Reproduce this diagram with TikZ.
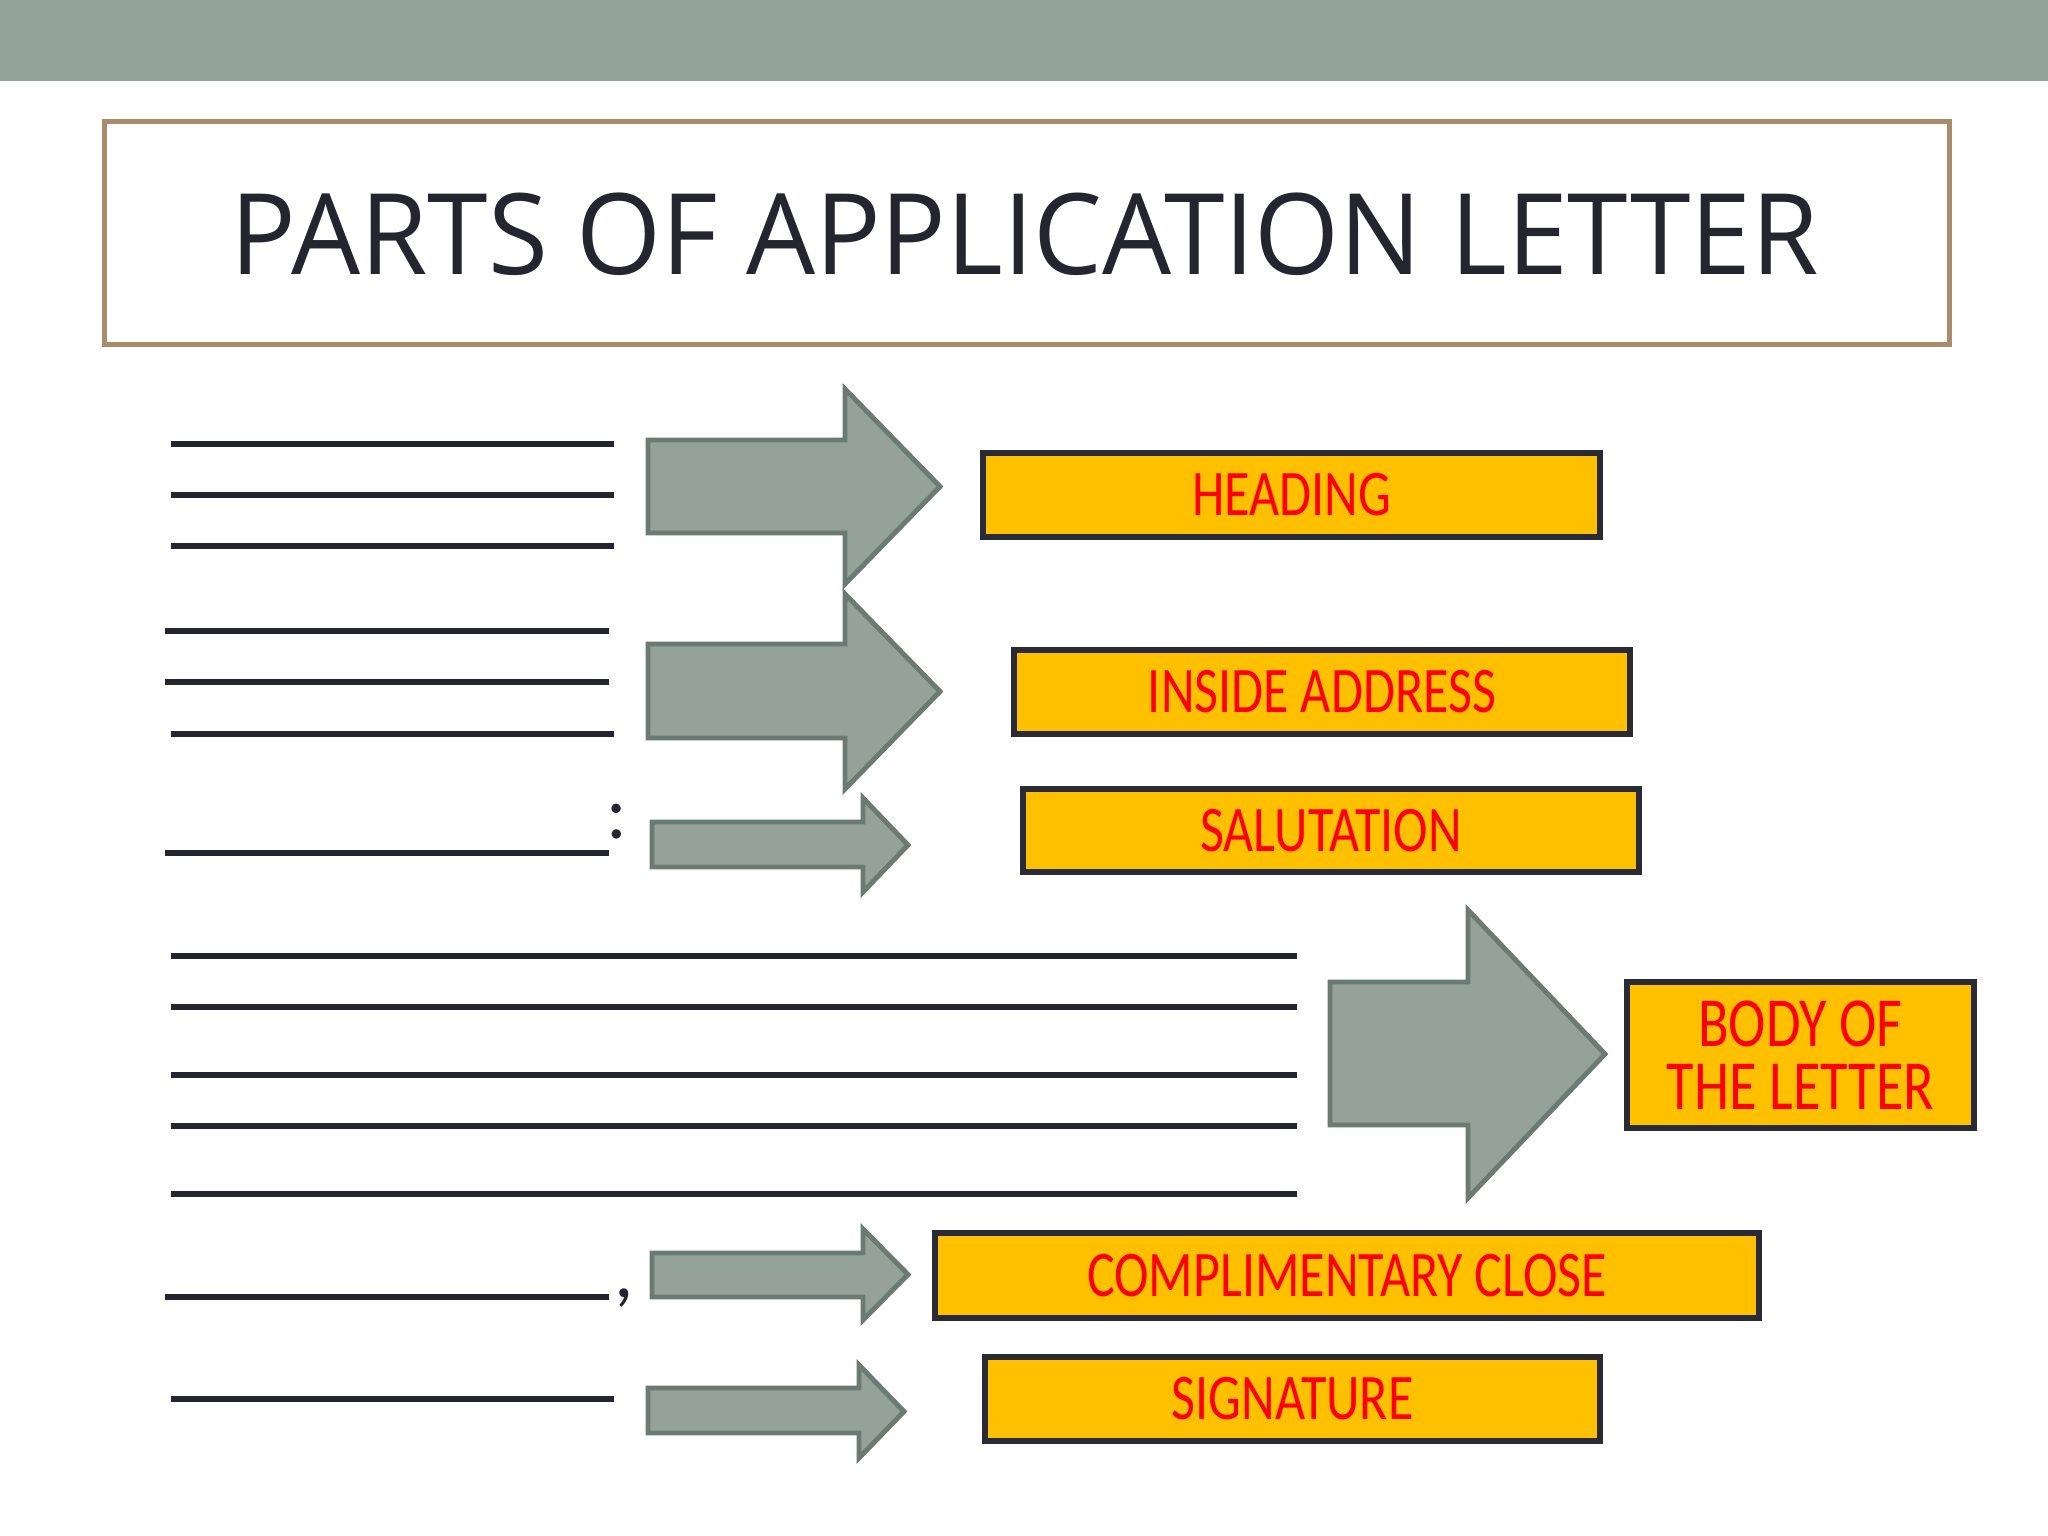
\documentclass[tikz,border=0pt]{standalone}
\usepackage{fontspec}
\setmainfont{Carlito}
\newfontfamily\titlefont[FakeStretch=0.97]{Open Sans}
\newfontfamily\boxfont[FakeStretch=0.8]{Carlito}
\definecolor{band}{HTML}{93A39A}
\definecolor{titleborder}{HTML}{A88C6C}
\definecolor{arrfill}{HTML}{94A29A}
\definecolor{arrdraw}{HTML}{6B7A72}
\definecolor{boxfill}{HTML}{FFC000}
\definecolor{boxdraw}{HTML}{2A2A35}
\definecolor{textred}{HTML}{FF0000}
\definecolor{ink}{HTML}{252530}
\tikzset{
  partbox/.style={draw=boxdraw, fill=boxfill, line width=1.6pt, inner sep=0pt,
    font=\boxfont\fontsize{18.5}{22}\selectfont, text=textred, align=center},
  rule/.style={draw=ink, line width=1.5pt},
  blockarrow/.style={draw=arrdraw, fill=arrfill, line width=1.4pt, line join=miter},
  punct/.style={inner sep=0pt, text=ink, font=\fontsize{22}{24}\selectfont}
}
% #1 x left, #2 x neck, #3 x tip, #4 body top, #5 body bottom, #6 head top, #7 head bottom
\newcommand\blockarr[7]{%
  \path[blockarrow] (#1,#4) -- (#2,#4) -- (#2,#6) -- (#3,{(#6+#7)/2}) -- (#2,#7) -- (#2,#5) -- (#1,#5) -- cycle;}
\begin{document}
\begin{tikzpicture}[x=0.01cm,y=-0.01cm]
\useasboundingbox (0,0) rectangle (2048,1536);
\fill[white] (0,0) rectangle (2048,1536);
% top band
\fill[band] (0,0) rectangle (2048,81);
% title
\node[draw=titleborder, line width=1.3pt, minimum width=18.44cm, minimum height=2.23cm, anchor=north west] (titlebox) at (102,119) {};
\node[text=ink, font=\titlefont\fontsize{32}{36}\selectfont] (title) at (1025,234) {PARTS OF APPLICATION LETTER};

% rule groups
\foreach \y in {444,495,546} \draw[rule] (171,\y) -- (614,\y);
\foreach \y in {631,682} \draw[rule] (165,\y) -- (609,\y);
\draw[rule] (171,734) -- (614,734);
\draw[rule] (165,853) -- (609,853);
\node[punct, anchor=base west] (colon) at (606,838) {:};
\foreach \y in {956,1007,1075,1126,1194} \draw[rule] (171,\y) -- (1297,\y);
\draw[rule] (165,1297) -- (609,1297);
\node[punct, anchor=base west] (comma) at (614,1297) {,};
\draw[rule] (171,1399) -- (614,1399);

% block arrows
\blockarr{648}{845}{940}{440}{533}{389}{584}
\blockarr{648}{845}{940}{644}{738}{594}{789}
\blockarr{652}{863}{908}{822}{867}{798}{892}
\blockarr{1330}{1468}{1605}{982}{1125}{910}{1198}
\blockarr{652}{863}{908}{1253}{1297}{1229}{1320}
\blockarr{648}{859}{904}{1388}{1433}{1365}{1458}

% part boxes
\node[partbox, minimum width=6.17cm, minimum height=0.84cm] (heading) at (1291.5,495) {HEADING};
\node[partbox, minimum width=6.16cm, minimum height=0.84cm] (inside) at (1322,692) {INSIDE ADDRESS};
\node[partbox, minimum width=6.16cm, minimum height=0.83cm] (salut) at (1331,830.5) {SALUTATION};
\node[partbox, minimum width=3.47cm, minimum height=1.46cm, font=\boxfont\fontsize{20}{22}\selectfont] (body) at (1800.5,1055) {BODY OF\\[-4pt] THE LETTER};
\node[partbox, minimum width=8.24cm, minimum height=0.85cm] (close) at (1347,1275.5) {COMPLIMENTARY CLOSE};
\node[partbox, minimum width=6.15cm, minimum height=0.84cm] (sig) at (1292.5,1399) {SIGNATURE};
\end{tikzpicture}
\end{document}
